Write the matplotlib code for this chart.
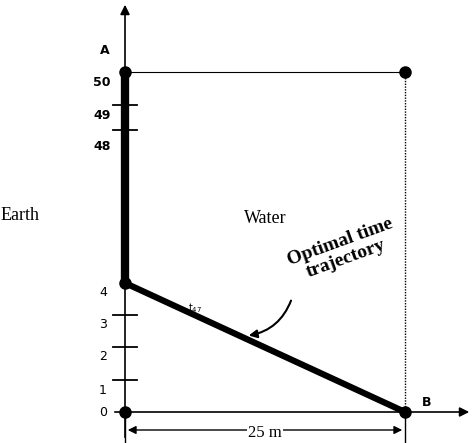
import matplotlib.pyplot as plt
from matplotlib.patches import FancyArrowPatch

# diagram in pixel coordinates of the reference
tick_labels_top = ["50", "49", "48"]
tick_label_y_top = [82, 115, 147]
tick_labels_low = ["4", "3", "2", "1", "0"]
tick_label_y_low = [293, 324, 357, 390, 412]
tick_marks_y = [105, 130, 315, 347, 380]

x0, x1 = 125, 405
y_top, y_bend, y_base = 72, 283, 412

fig = plt.figure(figsize=(4.74, 4.43), dpi=100)
ax = fig.add_axes([0, 0, 1, 1])
ax.set_xlim(0, 474)
ax.set_ylim(443, 0)
ax.axis("off")

# axes with arrows
ax.annotate("", xy=(x0, 2), xytext=(x0, 440),
            arrowprops=dict(arrowstyle="-|>", color="black", lw=1.2, mutation_scale=14))
ax.annotate("", xy=(472, y_base), xytext=(112, y_base),
            arrowprops=dict(arrowstyle="-|>", color="black", lw=1.2, mutation_scale=14))

# shore (thick) and trajectory
ax.plot([x0, x0], [y_top, y_bend], color="black", lw=6, solid_capstyle="butt")
ax.plot([x0, x1], [y_bend, y_base], color="black", lw=4.5)
ax.plot([x0, x1], [y_top, y_top], color="black", lw=0.8)
ax.plot([x1, x1], [y_top, y_base], color="black", lw=1, ls=(0, (1, 1)))

for px, py in [(x0, y_top), (x1, y_top), (x0, y_bend), (x0, y_base), (x1, y_base)]:
    ax.plot(px, py, "o", color="black", ms=8)

for ty in tick_marks_y:
    ax.plot([x0 - 12, x0 + 12], [ty, ty], color="black", lw=1.3)

for lab, ty in zip(tick_labels_top, tick_label_y_top):
    ax.text(111, ty, lab, ha="right", va="center", fontsize=9, fontweight="bold")
for lab, ty in zip(tick_labels_low, tick_label_y_low):
    ax.text(107, ty, lab, ha="right", va="center", fontsize=9)

ax.text(105, 50, "A", ha="center", va="center", fontsize=9, fontweight="bold")
ax.text(427, 403, "B", ha="center", va="center", fontsize=9, fontweight="bold")

# dimension line
ax.plot([x0, x0], [y_base, 443], color="black", lw=1)
ax.plot([x1, x1], [y_base, 443], color="black", lw=1)
ax.annotate("", xy=(x0, 430), xytext=(x1, 430),
            arrowprops=dict(arrowstyle="<|-|>", color="black", lw=1, mutation_scale=12))
ax.text(265, 433, "25 m", ha="center", va="center", fontsize=12, family="Liberation Serif",
        bbox=dict(facecolor="white", edgecolor="none", pad=0.5))

ax.text(20, 215, "Earth", ha="center", va="center", fontsize=13, family="Liberation Serif")
ax.text(265, 218, "Water", ha="center", va="center", fontsize=13, family="Liberation Serif")
ax.text(343, 250, "Optimal time\ntrajectory", ha="center", va="center", fontsize=14,
        fontweight="bold", family="Liberation Serif", rotation=20, linespacing=1.05)
ax.text(188, 308, "t$_{47}$", ha="left", va="center", fontsize=7)

ax.add_patch(FancyArrowPatch((292, 298), (246, 336), connectionstyle="arc3,rad=-0.3",
                             arrowstyle="-|>", mutation_scale=12, color="black", lw=1.5))

fig.savefig("out.png", dpi=100)
